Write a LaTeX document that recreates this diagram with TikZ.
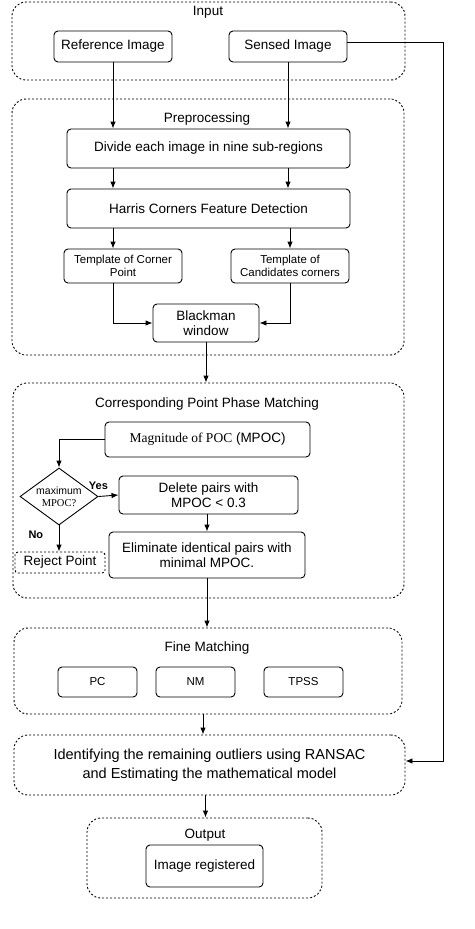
\documentclass[tikz,border=0pt]{standalone}
\usepackage{fontspec}
\setmainfont{Liberation Sans}
\newfontfamily\timesfont{Liberation Serif}
\usetikzlibrary{positioning, shapes.geometric, arrows.meta, calc}

\begin{document}
\begin{tikzpicture}[
    x=1pt, y=-1pt, % pixel-like coordinates, y downwards
    % Styles
    box/.style={ % Solid process box
        rectangle,
        rounded corners=4pt,
        draw,
        line width=0.9pt,
        inner sep=1pt,
        align=center,
        font=\fontsize{13.5}{15.5}\selectfont
    },
    smallbox/.style={
        box,
        font=\fontsize{11.5}{13.5}\selectfont
    },
    group/.style={ % Dashed stage container
        rectangle,
        rounded corners=14pt,
        draw,
        line width=0.9pt,
        dash pattern=on 2pt off 2pt
    },
    title/.style={
        font=\fontsize{13.5}{15.5}\selectfont
    },
    decision/.style={
        diamond,
        aspect=1.37,
        draw,
        line width=0.9pt,
        inner sep=0pt,
        minimum width=78pt,
        minimum height=57pt,
        align=center,
        font=\fontsize{10.5}{12}\selectfont
    },
    arrow/.style={
        -{Latex[length=7pt,width=5.5pt]},
        line width=0.9pt
    },
    tag/.style={ % Yes / No labels
        font=\fontsize{11}{13}\selectfont\bfseries
    }
]
    \useasboundingbox (0,0) rectangle (474,929);

    % Input
    \node[group, minimum width=393pt, minimum height=78pt] (input) at (208.5,41) {};
    \node[title] (inputlabel) at (208,12) {Input};
    \node[box, minimum width=118pt, minimum height=31pt] (ref) at (113,46.5) {Reference Image};
    \node[box, minimum width=118pt, minimum height=31pt] (sensed) at (288,46.5) {Sensed Image};

    % Preprocessing
    \node[group, minimum width=392pt, minimum height=256pt] (pre) at (208,227) {};
    \node[title] (prelabel) at (207,119) {Preprocessing};
    \node[box, minimum width=283pt, minimum height=39pt] (divide) at (208.5,148.5) {Divide each image in nine sub-regions};
    \node[box, minimum width=283pt, minimum height=39pt] (harris) at (208.5,208.5) {Harris Corners Feature Detection};
    \node[smallbox, minimum width=118pt, minimum height=34pt] (tcorner) at (123,266) {Template of Corner\\Point};
    \node[smallbox, minimum width=118pt, minimum height=34pt] (tcand) at (290,266) {Template of\\Candidates corners};
    \node[box, minimum width=106pt, minimum height=38pt] (blackman) at (206,323) {Blackman\\window};

    % Corresponding point phase matching
    \node[group, minimum width=391pt, minimum height=215pt] (match) at (208.5,490.5) {};
    \node[title] (matchlabel) at (207,404) {Corresponding Point Phase Matching};
    \node[box, minimum width=205pt, minimum height=35pt] (mpoc) at (207.5,439.5) {{\timesfont Magnitude of POC} (MPOC)};
    \node[decision] (dia) at (59,496.5) {maximum\\{\timesfont MPOC?}};
    \node[box, minimum width=179pt, minimum height=38pt] (delete) at (208.5,495) {Delete pairs with\\MPOC < 0.3};
    \node[box, minimum width=196pt, minimum height=46pt] (elim) at (207,555) {Eliminate identical pairs with\\minimal MPOC.};
    \node[box, rounded corners=3pt, dash pattern=on 2pt off 2pt, minimum width=90pt, minimum height=21pt] (reject) at (60,562.5) {Reject Point};

    % Fine matching
    \node[group, minimum width=388pt, minimum height=86pt] (fine) at (208,671) {};
    \node[title] (finelabel) at (207,648) {Fine Matching};
    \foreach \name/\txt/\x in {pc/PC/97.5, nm/NM/195.5, tpss/TPSS/303.5}
        \node[smallbox, minimum width=79pt, minimum height=30pt] (\name) at (\x,682) {\txt};

    % RANSAC
    \node[group, align=center, minimum width=391pt, minimum height=60pt,
          font=\fontsize{14.5}{19}\selectfont] (ransac) at (209.5,765)
        {Identifying the remaining outliers using RANSAC\\and Estimating the mathematical model};

    % Output
    \node[group, minimum width=235pt, minimum height=80pt] (output) at (204.5,858) {};
    \node[title] (outputlabel) at (205,835) {Output};
    \node[box, minimum width=117pt, minimum height=42pt] (registered) at (204.5,866) {Image registered};

    % Connectors
    \draw[arrow] (ref) -- (ref |- divide.north);
    \draw[arrow] (sensed) -- (sensed |- divide.north);
    \draw[arrow] (divide.south -| ref) -- (harris.north -| ref);
    \draw[arrow] (divide.south -| sensed) -- (harris.north -| sensed);
    \draw[arrow] (harris.south -| ref) -- (tcorner.north -| ref);
    \draw[arrow] (harris.south -| tcand) -- (tcand);
    \draw[arrow] (tcorner.south -| ref) |- (blackman.west);
    \draw[arrow] (tcand.south) |- (blackman.east);
    \draw[arrow] (blackman) -- (blackman |- match.north);

    \draw[arrow] (mpoc.west) -| (dia.north);
    \draw[arrow] (dia.east) -- (delete.west) node[tag, pos=0, yshift=10.5pt] {Yes};
    \draw[arrow] (dia.south) -- (reject.north -| dia) node[tag, pos=0.35, left=12pt] {No};
    \draw[arrow] (delete.south -| elim) -- (elim);
    \draw[arrow] (elim) -- (elim |- fine.north);

    \draw[arrow] ([xshift=-5pt]fine.south) -- ([xshift=-5pt]fine.south |- ransac.north);
    \draw[arrow] ([xshift=-4pt]ransac.south) -- ([xshift=-4pt]ransac.south |- output.north);

    % Sensed image goes straight to RANSAC
    \coordinate (turn) at (443,42);
    \draw[arrow] (sensed.east |- turn) -- (turn) |- ([yshift=4pt]ransac.east);
\end{tikzpicture}
\end{document}
